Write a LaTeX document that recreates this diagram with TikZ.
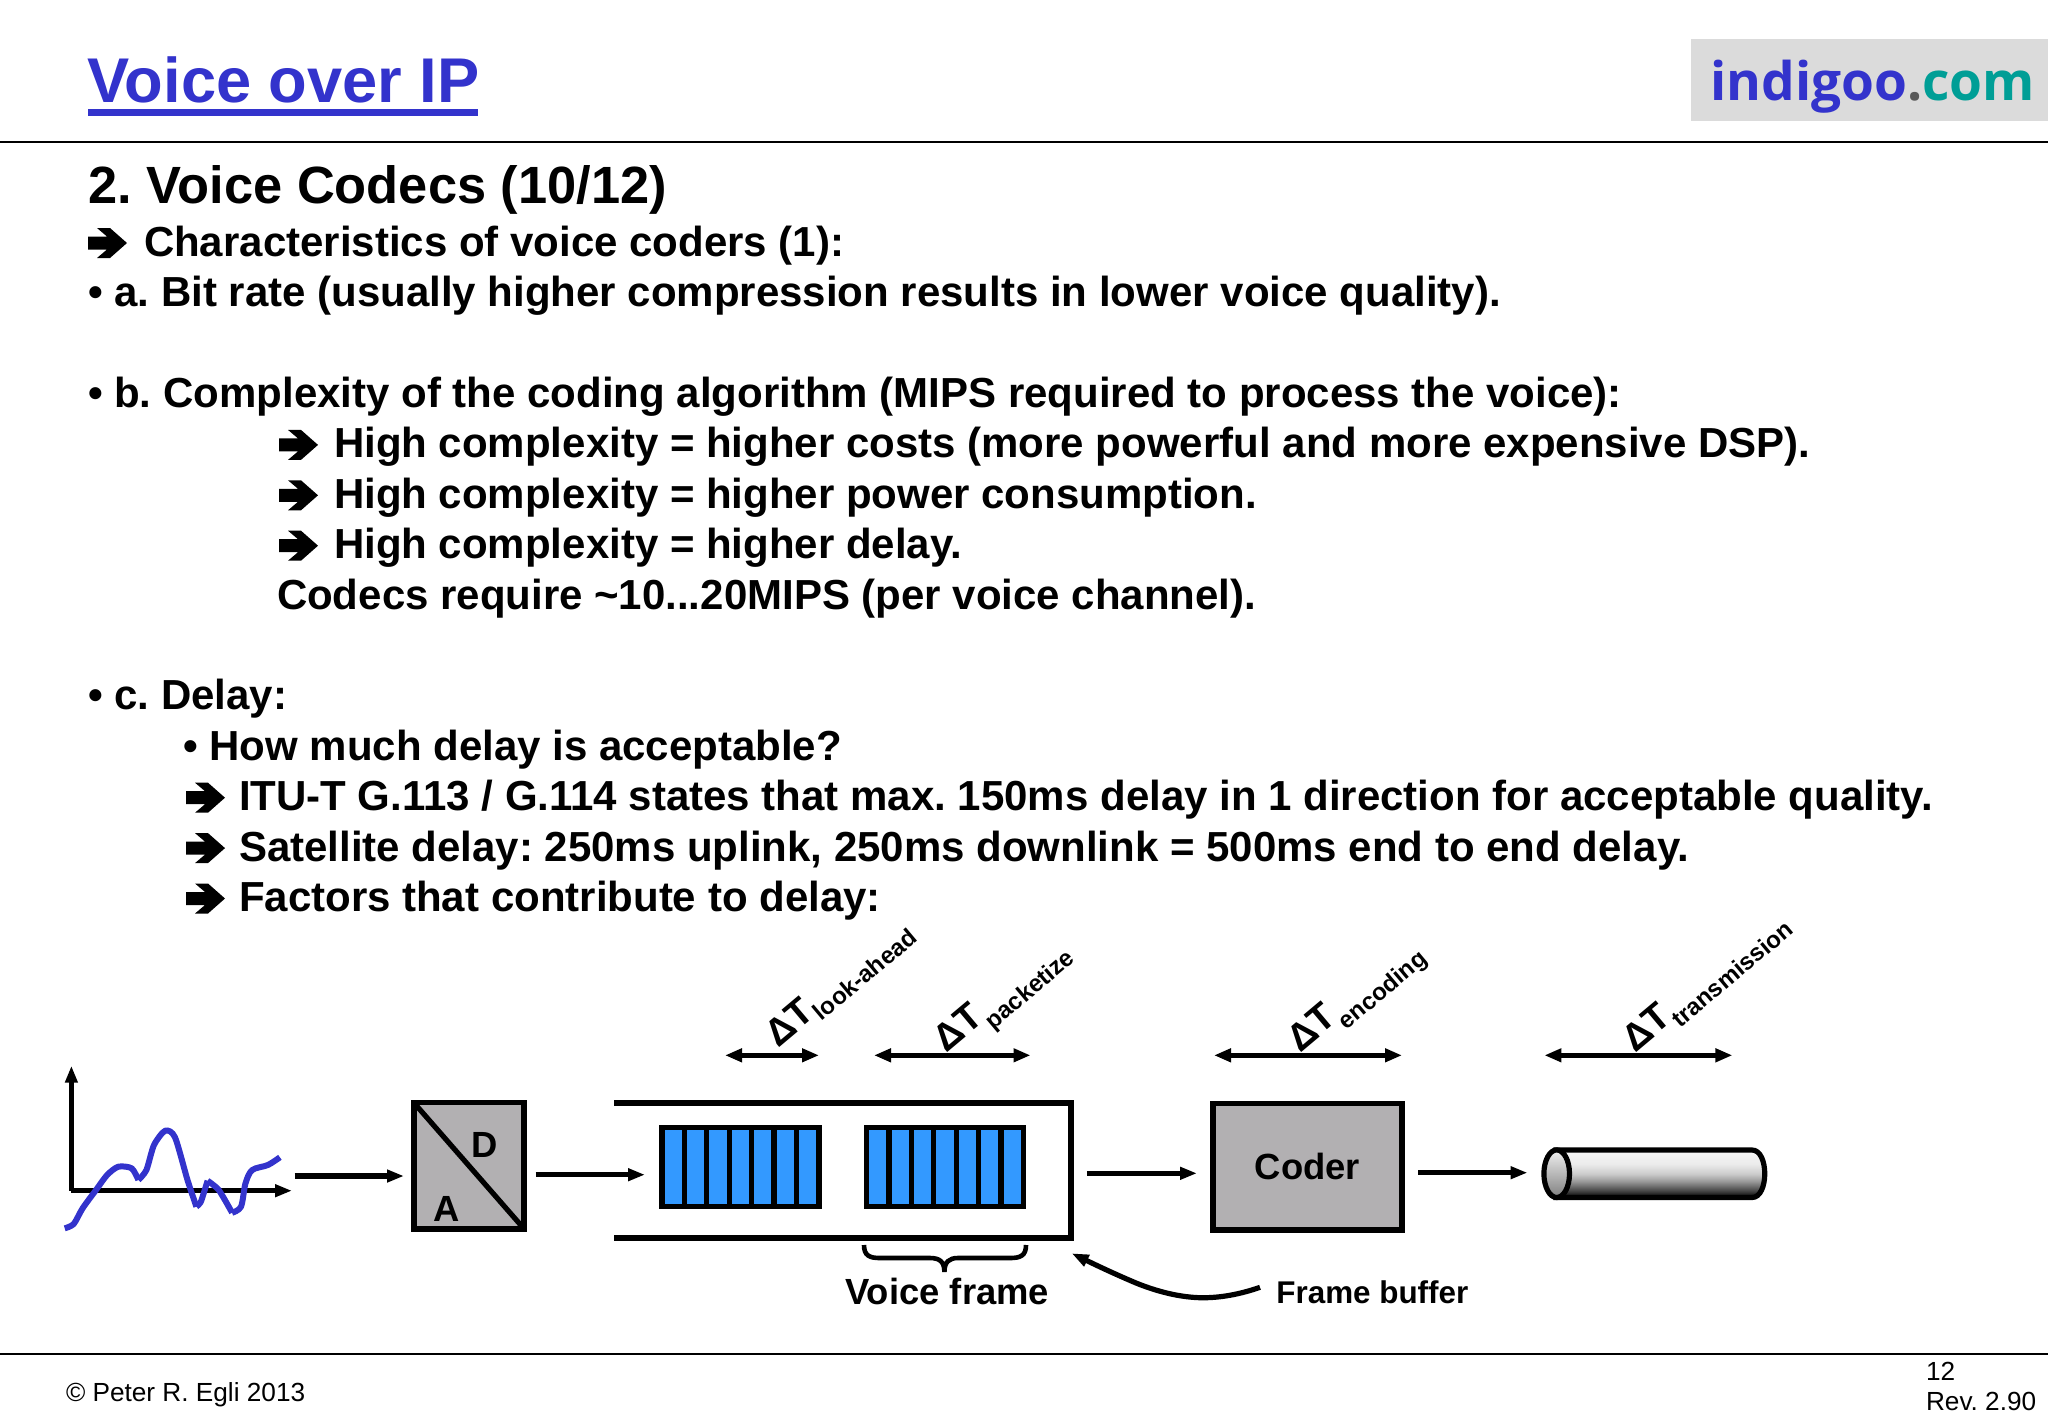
\documentclass[tikz,border=0pt]{standalone}
\usepackage{fontspec}
\setmainfont{Liberation Sans}
\newfontfamily\logof{Open Sans}
\usetikzlibrary{arrows.meta}
\frenchspacing
\definecolor{indigo}{HTML}{3333CC}
\definecolor{teal2}{HTML}{009E96}
\definecolor{boxgrey}{HTML}{B2B0B2}
\definecolor{slot}{HTML}{3399FF}
\pgfdeclareverticalshading{cylshade}{100bp}{color(0bp)=(black); color(25bp)=(black); color(33bp)=(black!70); color(42bp)=(black!40); color(50bp)=(black!20); color(60bp)=(black!8); color(75bp)=(black!3); color(100bp)=(black!3)}
\tikzset{
  x=0.5pt,y=-0.5pt,
  txt/.style={anchor=base west,inner sep=0pt,outer sep=0pt,font=\fontsize{21}{25}\selectfont\bfseries,text=black},
  small/.style={anchor=base west,inner sep=0pt,outer sep=0pt,font=\fontsize{13.1}{15}\selectfont,text=black},
  rule/.style={draw=black,line width=0.8pt},
  flow/.style={draw=black,line width=2.6pt,-{Triangle[length=8.5pt,width=6pt]}},
  axis/.style={draw=black,line width=2.6pt,-{Triangle[length=8.5pt,width=6pt]}},
  span/.style={draw=black,line width=2.3pt,{Triangle[length=8.5pt,width=6.5pt]}-{Triangle[length=8.5pt,width=6.5pt]}},
  blockbox/.style={draw=black,fill=boxgrey,line width=2.8pt,inner sep=0pt,outer sep=0pt},
  cellbox/.style={draw=black,fill=slot,line width=2.6pt,inner sep=0pt,outer sep=0pt,minimum width=78.5pt,minimum height=39.7pt},
  bodylabel/.style={inner sep=0pt,outer sep=0pt,anchor=base,font=\fontsize{18.2}{20}\selectfont\bfseries},
  delta/.style={anchor=base west,inner sep=0pt,outer sep=0pt,rotate=40,font=\fontsize{19}{22}\selectfont\bfseries},
  pics/bulletarrow/.style={code={\fill[black] (0,-6.5) -- (19,-6.5) -- (9,-15) -- (22,-15) -- (39,0) -- (22,15) -- (9,15) -- (19,6.5) -- (0,6.5) -- cycle;}},
}
\newcommand{\dt}[2][-3.9pt]{\char"0394 T{\fontsize{12}{14}\selectfont\raisebox{#1}{#2}}}
\begin{document}
\begin{tikzpicture}
\useasboundingbox (0,0) rectangle (2048,1418);
\fill[white] (0,0) rectangle (2048,1418);
% header
\node[anchor=base west,inner sep=0pt,font=\fontsize{31.6}{36}\selectfont\bfseries,text=indigo] (title) at (87,103) {Voice over IP};
\fill[indigo] (88,109.5) rectangle (478,116);
\draw[rule] (0,141.7) -- (2048,141.7);
\fill[black!14] (1690.7,39) rectangle (2048,121);
\node[anchor=base west,inner sep=0pt,font=\fontsize{26.6}{30}\selectfont\logof\bfseries] (logo) at (1710,100.7) {\textcolor{indigo}{indigoo}\textcolor{black!65}{.}\textcolor{teal2}{com}};
% body
\node[anchor=base west,inner sep=0pt,font=\fontsize{26.2}{30}\selectfont\bfseries] (head) at (88,203.5) {2. Voice Codecs (10/12)};
\path (88,243) pic {bulletarrow};
\node[txt] (t0) at (144,256.3) {Characteristics of voice coders (1):};
\node[txt] (t1) at (88,306.7) {• a. Bit rate (usually higher compression results in lower voice quality).};
\node[txt] (t3) at (88,407.5) {• b. Complexity of the coding algorithm (MIPS required to process the voice):};
\path (279,444.9) pic {bulletarrow};
\node[txt] (t4) at (334,457.9) {High complexity = higher costs (more powerful and more expensive DSP).};
\path (279,495.3) pic {bulletarrow};
\node[txt] (t5) at (334,508.3) {High complexity = higher power consumption.};
\path (279,545.7) pic {bulletarrow};
\node[txt] (t6) at (334,558.7) {High complexity = higher delay.};
\node[txt] (t7) at (277,609.1) {Codecs require \char"007E 10...20MIPS (per voice channel).};
\node[txt] (t9) at (88,709.9) {• c. Delay:};
\node[txt] (t10) at (183,760.3) {• How much delay is acceptable?};
\path (186,797.7) pic {bulletarrow};
\node[txt] (t11) at (239,810.7) {ITU-T G.113 / G.114 states that max. 150ms delay in 1 direction for acceptable quality.};
\path (186,848.1) pic {bulletarrow};
\node[txt] (t12) at (239,861.1) {Satellite delay: 250ms uplink, 250ms downlink = 500ms end to end delay.};
\path (186,898.5) pic {bulletarrow};
\node[txt] (t13) at (239,911.5) {Factors that contribute to delay:};
% signal plot
\coordinate (orig) at (71.4,1190.7);
\coordinate (ytop) at (71.4,1065.7);
\coordinate (xend) at (292,1190.7);
\draw[axis] (orig) -- (ytop);
\draw[axis] (orig) -- (xend);
\draw[indigo,line width=3pt,line join=round] plot[smooth,tension=0.45] coordinates {(64.7,1228.3)(73.7,1224)(82.6,1208.3)(96,1190)(107.1,1175)(118.3,1166.7)(131.7,1168.3)(138.4,1180)};
\draw[indigo,line width=3pt,line join=round] plot[smooth,tension=0.45] coordinates {(138.4,1180)(146.4,1170)(154,1145)(165.2,1130.7)(175,1137.3)(187.5,1180)(196.4,1206.7)};
\draw[indigo,line width=3pt,line join=round] plot[smooth,tension=0.3] coordinates {(196.4,1206.7)(200.9,1201.7)(207.6,1180.7)};
\draw[indigo,line width=3pt,line join=round] plot[smooth,tension=0.4] coordinates {(207.6,1180.7)(218.8,1190)(232.1,1212.7)};
\draw[indigo,line width=3pt,line join=round] plot[smooth,tension=0.5] coordinates {(232.1,1212.7)(241,1206.7)(245.5,1183.3)(252.2,1170)(267.9,1165)(279.9,1157.3)};
% A/D
\node[blockbox,minimum width=55.2pt,minimum height=63.2pt] (ad) at (469,1165.8) {};
\draw[black,line width=2.6pt] (ad.north west) -- (ad.south east);
\node[bodylabel] (dl) at (484.5,1157.5) {D};
\node[bodylabel] (al) at (446.5,1221) {A};
% frame buffer
\coordinate (f1) at (614.4,1102.7);
\coordinate (f2) at (1071,1102.7);
\coordinate (f3) at (1071,1238);
\coordinate (f4) at (614.4,1238);
\draw[black,line width=2.8pt] (f1) -- (f2) -- (f3) -- (f4);
\node[cellbox] (c1) at (740.5,1167) {};
\node[cellbox] (c2) at (945,1167) {};
\foreach \i in {1,...,6}{
  \draw[black,line width=2.6pt] (c1.north west) ++(22.4*\i,0) -- ++(0,79.4);
  \draw[black,line width=2.6pt] (c2.north west) ++(22.4*\i,0) -- ++(0,79.4);
}
% coder
\node[blockbox,minimum width=94.5pt,minimum height=63.2pt,font=\fontsize{18.2}{20}\selectfont\bfseries] (coder) at (1307.5,1166.5) {Coder};
% channel cylinder
\path[draw=black,line width=2.6pt,shade,shading=cylshade]
 (1556,1150) -- (1752,1150) .. controls (1769,1150) and (1769,1197.5) .. (1752,1197.5) -- (1556,1197.5) -- cycle;
\draw[black,line width=2.6pt,top color=black!6,bottom color=black!50] (1556.7,1173.7) circle[x radius=6.4pt,y radius=11.9pt];
% flow arrows
\coordinate (s1) at (294.6,1176); \coordinate (e1) at (404,1176);
\coordinate (s2) at (535.7,1174.7); \coordinate (e2) at (645,1174.7);
\coordinate (s3) at (1086.8,1173.3); \coordinate (e3) at (1197,1173.3);
\coordinate (s4) at (1418,1172.7); \coordinate (e4) at (1527.5,1172.7);
\draw[flow] (s1) -- (e1);
\draw[flow] (s2) -- (e2);
\draw[flow] (s3) -- (e3);
\draw[flow] (s4) -- (e4);
% delta spans
\coordinate (d1a) at (725,1055.3); \coordinate (d1b) at (819,1055.3);
\coordinate (d2a) at (874,1055.3); \coordinate (d2b) at (1030.5,1055.3);
\coordinate (d3a) at (1214,1055.3); \coordinate (d3b) at (1402,1055.3);
\coordinate (d4a) at (1544.4,1055.3); \coordinate (d4b) at (1732.4,1055.3);
\draw[span] (d1a) -- (d1b);
\draw[span] (d2a) -- (d2b);
\draw[span] (d3a) -- (d3b);
\draw[span] (d4a) -- (d4b);
\node[delta] (l1) at (778,1048) {\dt{look-ahead}};
\node[delta] (l2) at (946.7,1053) {\dt[-6.2pt]{packetize}};
\node[delta] (l3) at (1300,1053) {\dt[-6.2pt]{encoding}};
\node[delta] (l4) at (1635,1053) {\dt[-5pt]{transmission}};
% brace
\draw[black,line width=2.3pt,line cap=butt] (864,1245) .. controls (864,1256) and (870,1258) .. (880,1258) -- (930,1258) .. controls (940,1258) and (944.4,1262) .. (944.4,1272) .. controls (944.4,1262) and (949,1258) .. (958,1258) -- (1010,1258) .. controls (1020,1258) and (1026,1256) .. (1026,1245);
\node[anchor=base west,inner sep=0pt,font=\fontsize{18.2}{20}\selectfont\bfseries] (vf) at (845,1304.5) {Voice frame};
\node[anchor=base west,inner sep=0pt,font=\fontsize{15.7}{18}\selectfont\bfseries] (fb) at (1276,1303.5) {Frame buffer};
\coordinate (fbs) at (1260,1287.3);
\coordinate (fbe) at (1071.7,1253.3);
\draw[draw=black,line width=2.6pt,-{Triangle[length=8.5pt,width=6pt]}] (fbs) .. controls (1235,1296) and (1215,1298) .. (1200,1297.7) .. controls (1175,1297) and (1150,1289) .. (1133,1281.7) .. controls (1115,1274) and (1100,1267) .. (fbe);
% footer
\draw[rule] (0,1354) -- (2048,1354);
\node[small] (c) at (66,1401.7) {© Peter R. Egli 2013};
\node[small] (pg) at (1926,1380) {12};
\node[small] (rev) at (1926,1410.7) {Rev. 2.90};
\end{tikzpicture}
\end{document}
